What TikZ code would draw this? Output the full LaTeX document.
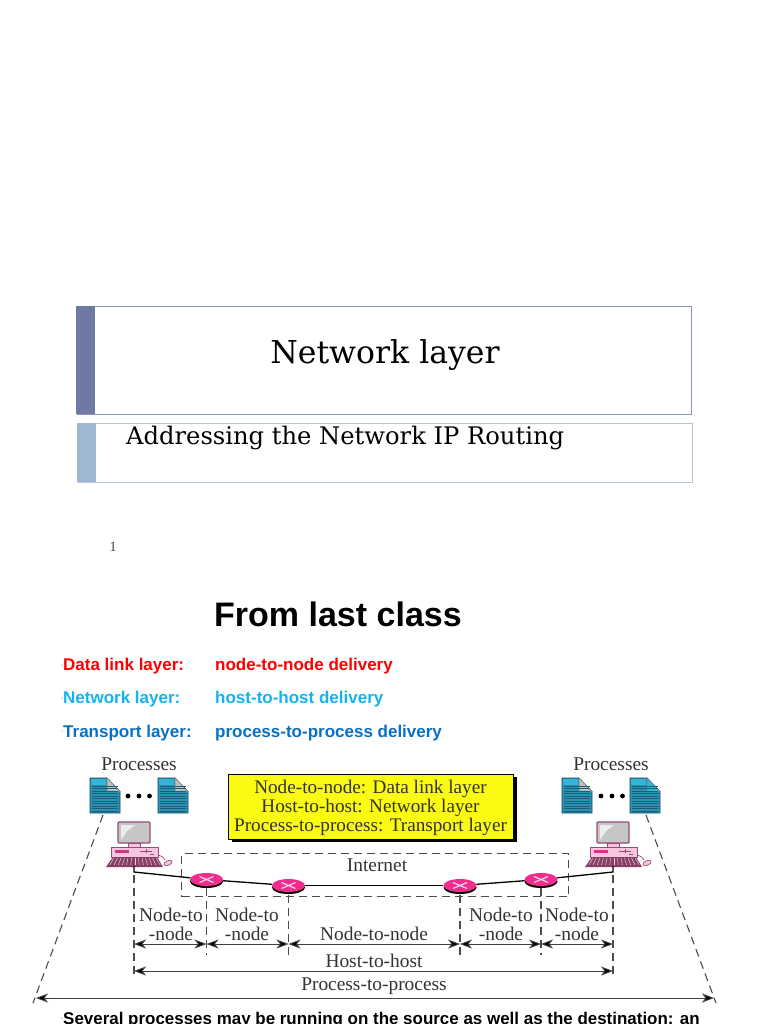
\documentclass[tikz,border=0pt]{standalone}
\usepackage{fontspec}
\setmainfont{Liberation Serif}
\newfontfamily\ttlfont{DejaVu Serif}
\newfontfamily\arialf{Liberation Sans}
\usetikzlibrary{arrows.meta,shapes.geometric}
\definecolor{barA}{HTML}{6F7AA3}
\definecolor{barB}{HTML}{A0B8D0}
\definecolor{edgeA}{HTML}{8A96BE}
\definecolor{edgeB}{HTML}{B4C4D8}
\definecolor{docblue}{HTML}{2A92B4}
\definecolor{doclite}{HTML}{35B4D6}
\definecolor{compmag}{HTML}{9A4A78}
\definecolor{comppink}{HTML}{F6C6E0}
\definecolor{routerpink}{HTML}{F02C8C}
\definecolor{linkcyan}{HTML}{12B4F0}
\definecolor{linkblue}{HTML}{0A70C4}
\definecolor{signyellow}{HTML}{FAFA12}
\tikzset{
 x=1pt,y=-1pt,
 lbl/.style={font=\fontsize{19.4}{19.4}\selectfont,inner sep=0pt,anchor=base,text=black!80},
 head/.style={font=\arialf\bfseries\fontsize{17}{17}\selectfont,inner sep=0pt,anchor=base west},
 meas/.style={draw=black!75,line width=.9pt,{Stealth[length=12pt,width=9pt,inset=3.5pt,fill=black]}-{Stealth[length=12pt,width=9pt,inset=3.5pt,fill=black]}},
 guide/.style={draw=black!70,line width=1.1pt,dash pattern=on 8pt off 5pt},
 link/.style={draw=black,line width=1.3pt},
 router/.style={ellipse,minimum width=33pt,minimum height=13pt,inner sep=0pt,fill=routerpink,draw=none},
 pics/doc/.style={code={
   \fill[docblue,draw=black!50!docblue,line width=.9pt] (-15,-17.5)--(2,-17.5)--(15,-4)--(15,17.5)--(-15,17.5)--cycle;
   \fill[#1,draw=black!50,line width=.5pt] (2,-17.5)--(15,-4)--(2,-4)--cycle;
   \fill[doclite] (-14,-16.5)--(1,-16.5)--(1,-11)--(-14,-11)--cycle;
   \foreach \yy in {-9.5,-7,...,15.5} \draw[black!35!docblue,line width=.6pt] (-13,\yy)--(13,\yy);
 }},
 pics/pc/.style={code={
   \fill[gray!45,draw=compmag,line width=1.4pt,rounded corners=1pt] (-17,-24)--(15,-24)--(15,-3)--(-17,-3)--cycle;
   \fill[white!85!gray] (-14,-21)--(0,-21)--(-8,-15)--(-14,-6)--cycle;
   \fill[comppink,draw=compmag,line width=.8pt] (-7,-3)--(5,-3)--(5,1)--(-7,1)--cycle;
   \fill[comppink,draw=compmag,line width=.9pt] (-24,1)--(23,1)--(23,11)--(-24,11)--cycle;
   \fill[routerpink!65!compmag] (-20,4)--(-6,4)--(-6,7)--(-20,7)--cycle;
   \draw[compmag,line width=.9pt] (5,5)--(17,5) (11,3)--(11,7) (15,8)--(19,8);
   \fill[compmag!85!black] (-29,21)--(-22,11)--(22,11)--(28,21)--cycle;
   \foreach \xx in {-21,-17.5,...,21} \draw[comppink,line width=.5pt] (\xx,12)--(\xx*1.2,19);
   \draw[compmag,line width=.7pt] (23,9) .. controls (27,10) and (29,12) .. (30,14);
   \fill[comppink,draw=compmag,line width=.7pt,rotate around={25:(33,17)}] (33,17) ellipse [x radius=4.5pt,y radius=2.3pt];
 }}
}
\begin{document}
\begin{tikzpicture}
\useasboundingbox (0,0) rectangle (768,1024);
\fill[white] (0,0) rectangle (768,1024);
% title slide
\node[draw=edgeA,line width=.6pt,minimum width=614pt,minimum height=107.5pt,inner sep=0pt,anchor=north west] (titlebox) at (76.5,306) {};
\fill[barA] (76,306) rectangle (95,414);
\node[font=\ttlfont\fontsize{31.5}{31.5}\selectfont,inner sep=0pt,anchor=base] (title) at (385,363.5) {Network layer};
\node[draw=edgeB,line width=.6pt,minimum width=614pt,minimum height=58.5pt,inner sep=0pt,anchor=north west] (subbox) at (77.5,423) {};
\fill[barB] (77,423) rectangle (96,482);
\node[font=\ttlfont\fontsize{24.2}{24.2}\selectfont,inner sep=0pt,anchor=base west] (sub) at (126,444.5) {Addressing the Network IP Routing};
\node[font=\fontsize{14}{14}\selectfont,inner sep=0pt,anchor=base,text=black!75] (pageno) at (113,551.5) {1};
% heading
\node[font=\arialf\bfseries\fontsize{34}{34}\selectfont,inner sep=0pt,anchor=base west] (h) at (214,626) {From last class};
\node[head,text=red] (a1) at (63,670) {Data link layer:};
\node[head,text=red] (a2) at (215,670) {node-to-node delivery};
\node[head,text=linkcyan] (b1) at (63,703) {Network layer:};
\node[head,text=linkcyan] (b2) at (215,703) {host-to-host delivery};
\node[head,text=linkblue] (c1) at (63,737) {Transport layer:};
\node[head,text=linkblue] (c2) at (215,737) {process-to-process delivery};
% processes
\node[lbl] (pl) at (139,770) {Processes};
\node[lbl] (pr) at (611,770) {Processes};
\pic at (105,795.5) {doc=gray!50};
\pic at (173,795.5) {doc=gray!50};
\pic at (577,795.5) {doc=gray!50};
\pic at (645,795.5) {doc=doclite};
\foreach \xx in {128,139,149.5,601,612,622.5} \fill (\xx,796) circle (2.4pt);
\pic at (135,846) {pc};
\pic at (614,846) {pc};
% yellow box
\fill[black] (232,777) rectangle (517,842);
\node[draw=black,fill=signyellow,line width=1pt,minimum width=285pt,minimum height=65pt,inner sep=0pt,anchor=north west] (yb) at (228,773.5) {};
\node[lbl,font=\fontsize{19.2}{19.2}\selectfont] at (370.5,793) {Node-to-node: Data link layer};
\node[lbl,font=\fontsize{19.2}{19.2}\selectfont] at (370.5,812.5) {Host-to-host: Network layer};
\node[lbl,font=\fontsize{19.2}{19.2}\selectfont] at (370.5,831.5) {Process-to-process: Transport layer};
% internet
\node[guide,minimum width=387pt,minimum height=43pt,inner sep=0pt,anchor=north west] (inet) at (181,853) {};
\node[lbl] at (377,871) {Internet};
% routers
\coordinate (hl) at (134,866);
\coordinate (hlb) at (134,872);
\coordinate (hr) at (613,866);
\coordinate (hrb) at (613,872);
\foreach \nm/\xx/\yy in {r1/206.5/880,r2/288.5/886,r3/460/886,r4/541/880}{
  \fill[black] (\xx,\yy+1.5) ellipse [x radius=16.5pt,y radius=6.5pt];
  \node[router] (\nm) at (\xx,\yy-.5) {};
  \draw[white!80!routerpink,line width=1.2pt] (\xx-7,\yy-3.5)--(\xx+7,\yy+2.5) (\xx-7,\yy+2.5)--(\xx+7,\yy-3.5);
}
\draw[link] (hl)--(hlb)--(r1);
\draw[link] (r1)--(r2);
\draw[link] (r2)--(r3);
\draw[link] (r3)--(r4);
\draw[link] (r4)--(hrb)--(hr);
% guides
\coordinate (g1t) at (134,875); \coordinate (g1b) at (134,978);
\coordinate (g2t) at (206.5,888); \coordinate (g2b) at (206.5,955);
\coordinate (g3t) at (288.5,895); \coordinate (g3b) at (288.5,955);
\coordinate (g4t) at (460,895); \coordinate (g4b) at (460,955);
\coordinate (g5t) at (541,888); \coordinate (g5b) at (541,955);
\coordinate (g6t) at (613,875); \coordinate (g6b) at (613,978);
\foreach \i in {1,...,6} \draw[guide] (g\i t)--(g\i b);
\coordinate (dlt) at (103,815); \coordinate (dlb) at (33,1003);
\coordinate (drt) at (646,815); \coordinate (drb) at (716,1003);
\draw[guide] (dlt)--(dlb);
\draw[guide] (drt)--(drb);
% measures
\foreach \aa/\bb in {1/2,2/3,3/4,4/5,5/6}{
  \coordinate (ma) at (g\aa b|-0,944);
  \coordinate (mb) at (g\bb b|-0,944);
  \draw[meas] (ma)--(mb);
}
\draw[meas] (g1b|-0,971)--(g6b|-0,971);
\coordinate (pa) at (36,998); \coordinate (pb) at (714,998);
\draw[meas] (pa)--(pb);
% labels
\foreach \xx in {171,247,501,577}{
  \node[lbl] at (\xx,921.5) {Node-to};
  \node[lbl] at (\xx,940) {-node};
}
\node[lbl] at (374,940) {Node-to-node};
\node[lbl] at (374,967) {Host-to-host};
\node[lbl] at (374,990.5) {Process-to-process};
% bottom
\node[head,font=\arialf\bfseries\fontsize{16.95}{16.95}\selectfont,text=black] (foot) at (63,1024.5) {Several processes may be running on the source as well as the destination: an};
\foreach \yy in {665,698,731,1018} \fill[gray] (62,\yy) circle (.6pt);
\end{tikzpicture}
\end{document}
